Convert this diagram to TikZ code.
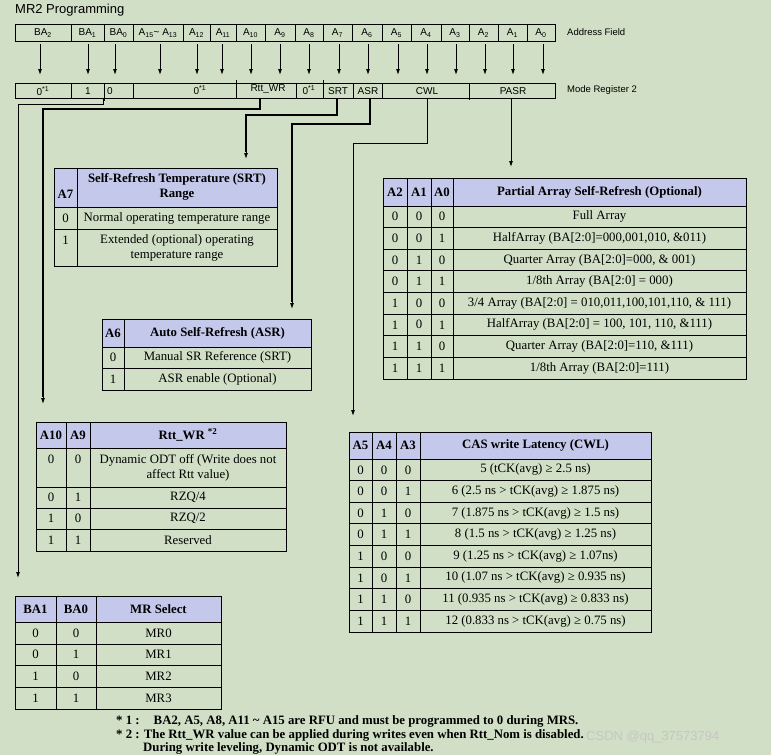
\documentclass[tikz,border=0pt]{standalone}
\usepackage{fontspec}
\setmainfont{Liberation Serif}
\newfontfamily\arialf{Liberation Sans}
\usetikzlibrary{arrows.meta}
\definecolor{bg}{RGB}{208,223,197}
\definecolor{hdr}{RGB}{196,200,234}
\begin{document}
\begin{tikzpicture}[x=1pt,y=-1pt,
  af/.style={font=\arialf\fontsize{10}{11}\selectfont,inner sep=0pt},
  lab/.style={font=\arialf\fontsize{9.5}{11}\selectfont,anchor=west,inner sep=0pt},
  tt/.style={font=\fontsize{12.8}{15}\selectfont,inner sep=0pt,align=center},
  th/.style={font=\bfseries\fontsize{12.8}{15}\selectfont,inner sep=0pt,align=center},
  thin/.style={line width=0.9pt},
  thick2/.style={line width=2.4pt},
  arr/.style={-{Latex[length=6pt,width=4pt]}},
  grid/.style={line width=0.9pt}]
\fill[bg] (0,0) rectangle (771,755);
\useasboundingbox (0,0) rectangle (771,755);
\node[anchor=west,inner sep=0pt,font=\arialf\fontsize{13}{14}\selectfont] (title) at (15,10) {MR2 Programming};
% address field
\draw[thin] (15,24) rectangle (555,41);
\foreach \x in {71,104,133,183,210,236,265,295,323,352,382,411,441,469,498,527} \draw[thin] (\x,24)--(\x,41);
\foreach \c/\t/\n in {43/BA\textsubscript{2}/a1, 87.5/BA\textsubscript{1}/a2, 118.5/BA\textsubscript{0}/a3, 158/A\textsubscript{15}\textasciitilde{} A\textsubscript{13}/a4, 196.5/A\textsubscript{12}/a5, 223/A\textsubscript{11}/a6, 250.5/A\textsubscript{10}/a7, 280/A\textsubscript{9}/a8, 309/A\textsubscript{8}/a9, 337.5/A\textsubscript{7}/a10, 367/A\textsubscript{6}/a11, 396.5/A\textsubscript{5}/a12, 426/A\textsubscript{4}/a13, 455/A\textsubscript{3}/a14, 483.5/A\textsubscript{2}/a15, 512.5/A\textsubscript{1}/a16, 541/A\textsubscript{0}/a17}
  \node[af] (\n) at (\c,33) {\t};
\foreach \x in {40,88,115,160,197,222,251,280,309,339,368,398,427,456,485,513,543}
  \draw[thin,arr] (\x,44)--(\x,75);
\node[lab] (afl) at (567,32) {Address Field};
\node[lab] (mrl) at (567,90) {Mode Register 2};
% mode register
\draw[thin] (15,83) rectangle (555,98);
\foreach \x in {71,104,133,236,296,323,353,382,469} \draw[thin] (\x,83)--(\x,98);
\draw[thin] (104,98)--(104,101); \draw[thin] (469,98)--(469,100); \draw[thin] (323,80)--(323,83); \draw[thin] (236,80)--(236,83);
\node[af] (m1) at (43,91) {0\textsuperscript{*1}};
\node[af] (m2) at (88,91) {1};
\node[af,anchor=west] (m3) at (107,91) {0};
\node[af] (m4) at (200,90) {0\textsuperscript{*1}};
\node[af] (m5) at (268,89) {Rtt\_WR};
\node[af] (m6) at (309,90) {0\textsuperscript{*1}};
\node[af] (m7) at (338,91) {SRT};
\node[af] (m8) at (368,91) {ASR};
\node[af] (m9) at (427,91) {CWL};
\node[af] (m10) at (513,91) {PASR};
% connectors
\coordinate (c1) at (103,98); \coordinate (c1e) at (18,578);
\draw[thin,arr] (c1)--(103,104)--(18,104)--(c1e);
\draw[thick2] (260,98)--(260,109)--(43,109)--(43,397);
\draw[thin,arr] (43,395)--(43,404);
\draw[thick2] (337,98)--(337,115)--(246,115)--(246,152);
\draw[thin,arr] (246,150)--(246,159);
\draw[thick2] (370,98)--(370,124)--(292,124)--(292,302);
\draw[thin,arr] (292,300)--(292,309);
\draw[thin,arr] (427,98)--(427,143)--(353,143)--(353,416);
\draw[thin,arr] (511,98)--(511,167);
% SRT table
\fill[hdr] (54,168) rectangle (277,207);
\draw[grid] (54,168) rectangle (277,266);
\draw[grid] (77,168)--(77,266) (54,207)--(277,207) (54,229)--(277,229);
\node[th] (s0) at (65.5,194) {A7};
\node[th] (s1) at (177,187) {Self-Refresh Temperature (SRT)\\Range};
\node[tt] (s2) at (65.5,218) {0};
\node[tt] (s3) at (177,218) {Normal operating temperature range};
\node[tt] (s4) at (65.5,240) {1};
\node[tt] (s5) at (177,247.5) {Extended (optional) operating\\temperature range};
% ASR table
\fill[hdr] (102,319) rectangle (311,347);
\draw[grid] (102,319) rectangle (311,390);
\draw[grid] (124,319)--(124,390) (102,347)--(311,347) (102,368)--(311,368);
\node[th] (r0) at (113,333) {A6};
\node[th] (r1) at (217.5,333) {Auto Self-Refresh (ASR)};
\node[tt] (r2) at (113,357.5) {0};
\node[tt] (r3) at (217.5,357.5) {Manual SR Reference (SRT)};
\node[tt] (r4) at (113,379) {1};
\node[tt] (r5) at (217.5,379) {ASR enable (Optional)};
% PASR table
\fill[hdr] (383,178) rectangle (746,206);
\draw[grid] (383,178) rectangle (746,379);
\draw[grid] (407,178)--(407,379) (431,178)--(431,379) (453,178)--(453,379);
\foreach \k in {0,...,7} \draw[grid] (383,206+21.6*\k)--(746,206+21.6*\k);
\node[th] (p0) at (395,192) {A2};
\node[th] (p1) at (419,192) {A1};
\node[th] (p2) at (442,192) {A0};
\node[th] (p3) at (599.5,192) {Partial Array Self-Refresh (Optional)};
\foreach \k/\a/\b/\c/\t in {0/0/0/0/{Full Array},1/0/0/1/{HalfArray (BA[2:0]=000,001,010, \&011)},2/0/1/0/{Quarter Array (BA[2:0]=000, \& 001)},3/0/1/1/{1/8th Array (BA[2:0] = 000)},4/1/0/0/{3/4 Array (BA[2:0] = 010,011,100,101,110, \& 111)},5/1/0/1/{HalfArray (BA[2:0] = 100, 101, 110, \&111)},6/1/1/0/{Quarter Array (BA[2:0]=110, \&111)},7/1/1/1/{1/8th Array (BA[2:0]=111)}}{
  \node[tt] (pa\k) at (395,216.8+21.6*\k) {\a};
  \node[tt] (pb\k) at (419,216.8+21.6*\k) {\b};
  \node[tt] (pc\k) at (442,216.8+21.6*\k) {\c};
  \node[tt] (pd\k) at (599.5,216.8+21.6*\k) {\t};
}
% CWL table
\fill[hdr] (349,432) rectangle (651,459);
\draw[grid] (349,432) rectangle (651,632);
\draw[grid] (372,432)--(372,632) (396,432)--(396,632) (420,432)--(420,632);
\foreach \k in {0,...,7} \draw[grid] (349,459+21.6*\k)--(651,459+21.6*\k);
\node[th] (w0) at (360.5,445.5) {A5};
\node[th] (w1) at (384,445.5) {A4};
\node[th] (w2) at (408,445.5) {A3};
\node[th] (w3) at (535.5,445.5) {CAS write Latency (CWL)};
\foreach \k/\a/\b/\c/\t in {0/0/0/0/{5 (tCK(avg) ≥ 2.5 ns)},1/0/0/1/{6 (2.5 ns > tCK(avg) ≥ 1.875 ns)},2/0/1/0/{7 (1.875 ns > tCK(avg) ≥ 1.5 ns)},3/0/1/1/{8 (1.5 ns > tCK(avg) ≥ 1.25 ns)},4/1/0/0/{9 (1.25 ns > tCK(avg) ≥ 1.07ns)},5/1/0/1/{10 (1.07 ns > tCK(avg) ≥ 0.935 ns)},6/1/1/0/{11 (0.935 ns > tCK(avg) ≥ 0.833 ns)},7/1/1/1/{12 (0.833 ns > tCK(avg) ≥ 0.75 ns)}}{
  \node[tt] (wa\k) at (360.5,469.8+21.6*\k) {\a};
  \node[tt] (wb\k) at (384,469.8+21.6*\k) {\b};
  \node[tt] (wc\k) at (408,469.8+21.6*\k) {\c};
  \node[tt] (wd\k) at (535.5,469.8+21.6*\k) {\t};
}
% Rtt_WR table
\fill[hdr] (36,422) rectangle (286,448);
\draw[grid] (36,422) rectangle (286,551);
\draw[grid] (66,422)--(66,551) (90,422)--(90,551) (36,448)--(286,448) (36,487)--(286,487) (36,508)--(286,508) (36,529)--(286,529);
\node[th] (t0) at (51,435) {A10};
\node[th] (t1) at (78,435) {A9};
\node[th] (t2) at (188,435) {Rtt\_WR \textsuperscript{*2}};
\node[tt] (t3) at (51,459) {0};
\node[tt] (t4) at (78,459) {0};
\node[tt] (t5) at (188,467.5) {Dynamic ODT off (Write does not\\affect Rtt value)};
\foreach \y/\a/\b/\t/\n in {497.5/0/1/RZQ\slash 4/x1,518.5/1/0/RZQ\slash 2/x2,540/1/1/Reserved/x3}{
  \node[tt] (\n a) at (51,\y) {\a};
  \node[tt] (\n b) at (78,\y) {\b};
  \node[tt] (\n c) at (188,\y) {\t};
}
% MR select table
\fill[hdr] (15,596) rectangle (221,622);
\draw[grid] (15,596) rectangle (221,709);
\draw[grid] (56,596)--(56,709) (96,596)--(96,709);
\foreach \y in {622,644,665,687} \draw[grid] (15,\y)--(221,\y);
\node[th] (q0) at (35.5,609) {BA1};
\node[th] (q1) at (76,609) {BA0};
\node[th] (q2) at (158.5,609) {MR Select};
\foreach \y/\a/\b/\t/\n in {633/0/0/MR0/y1,654.5/0/1/MR1/y2,676/1/0/MR2/y3,698/1/1/MR3/y4}{
  \node[tt] (\n a) at (35.5,\y) {\a};
  \node[tt] (\n b) at (76,\y) {\b};
  \node[tt] (\n c) at (158.5,\y) {\t};
}
% footnotes
\node[anchor=west,inner sep=0pt,font=\bfseries\fontsize{12.8}{13}\selectfont] (f1) at (116,721) {* 1 :\hspace{1.1em}BA2, A5, A8, A11 \textasciitilde{} A15 are RFU and must be programmed to 0 during MRS.};
\node[anchor=west,inner sep=0pt,font=\bfseries\fontsize{12.8}{13}\selectfont] (f2) at (116,735) {* 2 : The Rtt\_WR value can be applied during writes even when Rtt\_Nom is disabled.};
\node[anchor=west,inner sep=0pt,font=\bfseries\fontsize{12.8}{13}\selectfont] (f3) at (143,748) {During write leveling, Dynamic ODT is not available.};
\node[anchor=west,inner sep=0pt,text=white!55!gray,font=\arialf\fontsize{13}{14}\selectfont] (wm) at (586,737) {CSDN @qq\_37573794};
\end{tikzpicture}
\end{document}
